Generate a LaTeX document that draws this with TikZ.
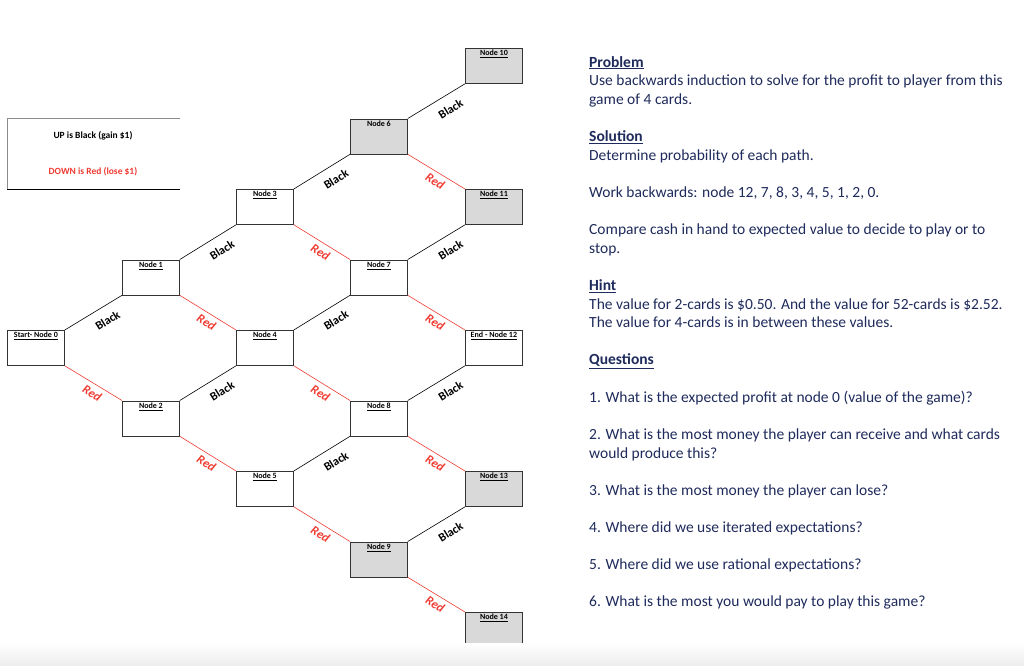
\documentclass[tikz,border=0pt]{standalone}
\usepackage{fontspec}
\setmainfont{Carlito}
\usetikzlibrary{calc}
\definecolor{navy}{RGB}{31,43,92}
\definecolor{redline}{RGB}{240,60,50}
\definecolor{boxgray}{RGB}{217,217,217}
\newcommand\bedge[2]{%
  \draw[blk] (#1.north east) -- (#2.south west);
  \node[blab] (lb#1#2) at ($(#1.north east)!0.62!(#2.south west)!14pt!-90:(#2.south west)$) {Black};}
\newcommand\redge[2]{%
  \draw[rd] (#1.south east) -- (#2.north west);
  \node[rlab] (lr#1#2) at ($(#1.south east)!0.56!(#2.north west)!9pt!-90:(#2.north west)$) {Red};}
\begin{document}
\begin{tikzpicture}[x=1pt,y=-1pt,
 box/.style={draw=black!80, line width=0.8pt, minimum width=57pt, minimum height=35pt, inner sep=0pt, anchor=north west},
 grayb/.style={box, fill=boxgray},
 ttl/.style={anchor=north, inner sep=0pt, yshift=-2pt, font=\fontsize{8}{9}\selectfont\bfseries},
 blk/.style={draw=black, line width=0.6pt},
 rd/.style={draw=redline, line width=0.6pt},
 blab/.style={font=\fontsize{12}{14}\selectfont\bfseries, rotate=32, inner sep=0pt},
 rlab/.style={font=\fontsize{12.5}{14}\selectfont\bfseries\itshape, text=redline, rotate=-32, inner sep=0pt},
 rt/.style={anchor=base west, inner sep=0pt, text=navy, font=\fontsize{15.5}{18}\selectfont},
 leg/.style={inner sep=0pt, font=\fontsize{9.5}{11}\selectfont\bfseries}
]
\useasboundingbox (0,0) rectangle (1024,665);
\fill[white] (0,0) rectangle (1024,665);

% legend
\node[minimum width=173pt, minimum height=71pt, anchor=north west, inner sep=0pt] (legend) at (7,118) {};
\draw[black!45, line width=0.8pt] (legend.south west) -- (legend.north west) -- (legend.north east);
\draw[black, line width=0.8pt] (legend.south west) -- (legend.south east);
\node[leg] (up) at (93,136) {UP is Black (gain \$1)};
\node[leg, text=redline] (down) at (93,172) {DOWN is Red (lose \$1)};

% nodes
\node[box, label={[ttl]north:\underline{Start- Node 0}}] (n0) at (7,330) {};
\node[box, label={[ttl]north:\underline{Node 1}}] (n1) at (122,259.5) {};
\node[box, label={[ttl]north:\underline{Node 2}}] (n2) at (122,400.5) {};
\node[box, label={[ttl]north:\underline{Node 3}}] (n3) at (236,189) {};
\node[box, label={[ttl]north:\underline{Node 4}}] (n4) at (236,330) {};
\node[box, label={[ttl]north:\underline{Node 5}}] (n5) at (236,471) {};
\node[grayb, label={[ttl]north:Node 6}] (n6) at (350,118.5) {};
\node[box, label={[ttl]north:\underline{Node 7}}] (n7) at (350,259.5) {};
\node[box, label={[ttl]north:\underline{Node 8}}] (n8) at (350,400.5) {};
\node[grayb, label={[ttl]north:\underline{Node 9}}] (n9) at (350,541.5) {};
\node[grayb, label={[ttl]north:\underline{Node 10}}] (n10) at (465,48) {};
\node[grayb, label={[ttl]north:\underline{Node 11}}] (n11) at (465,189) {};
\node[box, label={[ttl]north:\underline{End - Node 12}}] (n12) at (465,330) {};
\node[grayb, label={[ttl]north:\underline{Node 13}}] (n13) at (465,471) {};
\node[grayb, label={[ttl]north:\underline{Node 14}}] (n14) at (465,612) {};

% edges
\bedge{n0}{n1}\redge{n0}{n2}
\bedge{n1}{n3}\redge{n1}{n4}
\bedge{n2}{n4}\redge{n2}{n5}
\bedge{n3}{n6}\redge{n3}{n7}
\bedge{n4}{n7}\redge{n4}{n8}
\bedge{n5}{n8}\redge{n5}{n9}
\bedge{n6}{n10}\redge{n6}{n11}
\bedge{n7}{n11}\redge{n7}{n12}
\bedge{n8}{n12}\redge{n8}{n13}
\bedge{n9}{n13}\redge{n9}{n14}

% right text
\node[rt] (t0) at (589,67) {\bfseries\underline{Problem}};
\node[rt] (t1) at (589,{67+18.62*1}) {Use backwards induction to solve for the profit to player from this};
\node[rt] (t2) at (589,{67+18.62*2}) {game of 4 cards.};
\node[rt] (t4) at (589,{67+18.62*4}) {\bfseries\underline{Solution}};
\node[rt] (t5) at (589,{67+18.62*5}) {Determine probability of each path.};
\node[rt] (t7) at (589,{67+18.62*7}) {Work backwards: node 12, 7, 8, 3, 4, 5, 1, 2, 0.};
\node[rt] (t9) at (589,{67+18.62*9}) {Compare cash in hand to expected value to decide to play or to};
\node[rt] (t10) at (589,{67+18.62*10}) {stop.};
\node[rt] (t12) at (589,{67+18.62*12}) {\bfseries\underline{Hint}};
\node[rt] (t13) at (589,{67+18.62*13}) {The value for 2-cards is \$0.50. And the value for 52-cards is \$2.52.};
\node[rt] (t14) at (589,{67+18.62*14}) {The value for 4-cards is in between these values.};
\node[rt] (t16) at (589,{67+18.62*16}) {\bfseries\underline{Questions}};
\node[rt] (t18) at (589,{67+18.62*18}) {1. What is the expected profit at node 0 (value of the game)?};
\node[rt] (t20) at (589,{67+18.62*20}) {2. What is the most money the player can receive and what cards};
\node[rt] (t21) at (589,{67+18.62*21}) {would produce this?};
\node[rt] (t23) at (589,{67+18.62*23}) {3. What is the most money the player can lose?};
\node[rt] (t25) at (589,{67+18.62*25}) {4. Where did we use iterated expectations?};
\node[rt] (t27) at (589,{67+18.62*27}) {5. Where did we use rational expectations?};
\node[rt] (t29) at (589,{67+18.62*29}) {6. What is the most you would pay to play this game?};

% bottom fade
\shade[top color=white, bottom color=black!7] (0,643) rectangle (1024,665);
\end{tikzpicture}
\end{document}
